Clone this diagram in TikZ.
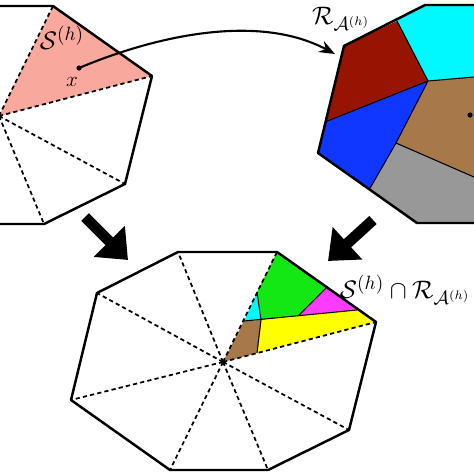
\documentclass[tikz,border=0pt]{standalone}
\usepackage{tikz}
\usetikzlibrary{arrows.meta}

\definecolor{salmon}{RGB}{249,168,158}
\definecolor{maroon}{RGB}{150,20,0}
\definecolor{skycyan}{RGB}{0,248,255}
\definecolor{royal}{RGB}{15,55,255}
\definecolor{umber}{RGB}{168,121,72}
\definecolor{ash}{RGB}{152,152,152}
\definecolor{lime}{RGB}{20,232,20}
\definecolor{pinkm}{RGB}{252,60,252}
\definecolor{lemon}{RGB}{255,255,0}

\begin{document}
\begin{tikzpicture}
[x=0.02cm,y=-0.02cm,
rim/.style={draw=black,line width=1.4pt,line join=round},
spoke/.style={dash pattern=on 2.4pt off 1.8pt,line width=1pt},
cell/.style={draw=black,line width=0.6pt},
bigarrow/.style={-{Triangle[width=24pt,length=15pt]},line width=6.2pt},
lbl/.style={font=\fontsize{15}{18}\selectfont}]
\useasboundingbox (0,0) rectangle (474,474);
\clip (0,0) rectangle (474,474);

% corners of the three octagons
\foreach \o/\cx/\cy in {L/-1/116,R/470/115,B/223/362} {
  \coordinate (\o c) at (\cx,\cy);
  \foreach \i/\dx/\dy in {1/-45/-110,2/54/-110,3/153/-40,4/126/68,
                          5/45/108,6/-53/108,7/-152/38,8/-126/-69}
    \coordinate (\o\i) at (\cx+\dx,\cy+\dy);
}

% left octagon: the sector S^(h)
\fill[salmon] (Lc) -- (L2) -- (L3) -- cycle;
\foreach \i in {1,...,8} \draw[spoke] (Lc) -- (L\i);
\draw[rim] (L1) -- (L2) -- (L3) -- (L4) -- (L5) -- (L6) -- (L7) -- (L8) -- cycle;

% right octagon: the cells
\coordinate (ra) at (397,21);
\coordinate (rb) at (428,81);
\coordinate (rc) at (325,122);
\coordinate (rd) at (396,143);
\coordinate (re) at (369,190);
\coordinate (rf) at (600,66);
\coordinate (rg) at (600,232);
\begin{scope}
\clip (R1) -- (R2) -- (R3) -- (R4) -- (R5) -- (R6) -- (R7) -- (R8) -- cycle;
\fill[maroon] (ra) -- (R8) -- (rc) -- (rb) -- cycle;
\fill[skycyan] (ra) -- (400,-10) -- (600,-10) -- (rf) -- (rb) -- cycle;
\fill[umber] (rb) -- (rf) -- (rg) -- (rd) -- cycle;
\fill[royal] (rc) -- (rb) -- (rd) -- (re) -- (R7) -- cycle;
\fill[ash] (rd) -- (rg) -- (600,320) -- (R5) -- (R6) -- (re) -- cycle;
\draw[cell] (ra) -- (rb) -- (rc) (rb) -- (rf) (rb) -- (rd) -- (re) (rd) -- (rg);
\end{scope}
\draw[rim] (R1) -- (R2) -- (R3) -- (R4) -- (R5) -- (R6) -- (R7) -- (R8) -- cycle;
\fill (Rc) circle (2.6);

% bottom octagon: S^(h) cut by the cells
\coordinate (ba) at (326,288);
\coordinate (bb) at (357,310);
\coordinate (bd) at (298,316);
\coordinate (be) at (244,321);
\coordinate (bf) at (257,292);
\coordinate (bg) at (261,320);
\coordinate (bh) at (257,353);
\fill[lime] (B2) -- (ba) -- (bd) -- (bg) -- (bf) -- cycle;
\fill[pinkm] (ba) -- (bb) -- (bd) -- cycle;
\fill[skycyan] (bf) -- (bg) -- (be) -- cycle;
\fill[lemon] (bg) -- (bb) -- (B3) -- (bh) -- cycle;
\fill[umber] (be) -- (bg) -- (bh) -- (Bc) -- cycle;
\draw[cell] (be) -- (bb) (ba) -- (bd) (bf) -- (bg) -- (bh);
\foreach \i in {1,...,8} \draw[spoke] (Bc) -- (B\i);
\draw[rim] (B1) -- (B2) -- (B3) -- (B4) -- (B5) -- (B6) -- (B7) -- (B8) -- cycle;

% labels
\node[lbl] (slbl) at (62,38) {$\mathcal{S}^{(h)}$};
\node[font=\fontsize{12}{14}\selectfont] (xlbl) at (72,82) {$x$};
\node[lbl] (rlbl) at (341,19) {$\mathcal{R}_{\mathcal{A}^{(h)}}$};
\node[lbl] (ilbl) at (405,290) {$\mathcal{S}^{(h)}\cap\mathcal{R}_{\mathcal{A}^{(h)}}$};

% the point x and where it goes
\coordinate (xdot) at (79,68);
\coordinate (rtip) at (335,54);
\fill (xdot) circle (2.6);
\draw[-{Stealth[length=9pt,width=7pt]},line width=1.2pt]
  (xdot) .. controls (160,34) and (260,14) .. (rtip);

% big arrows down to the bottom octagon
\coordinate (la) at (85,217);
\coordinate (lb) at (128,260);
\coordinate (ma) at (373,220);
\coordinate (mb) at (328,261);
\draw[bigarrow] (la) -- (lb);
\draw[bigarrow] (ma) -- (mb);
\end{tikzpicture}
\end{document}
